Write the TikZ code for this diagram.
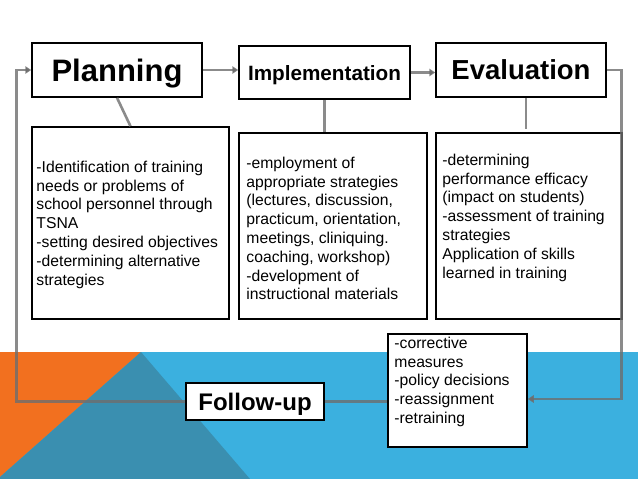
\documentclass[tikz,border=0pt]{standalone}
\usepackage{fontspec}
\setmainfont{Liberation Sans}
\usetikzlibrary{arrows.meta}

\definecolor{bandblue}{HTML}{3BB0DF}
\definecolor{bandteal}{HTML}{3A8FB0}
\definecolor{bandorange}{HTML}{F2701F}
\definecolor{linkgray}{HTML}{6E6E6E}

\tikzset{
  stage/.style={draw=black, line width=1.5pt, fill=white, inner sep=0pt,
    text depth=0pt, font=\bfseries\fontsize{#1}{#1}\selectfont},
  detail/.style={draw=black, line width=1.5pt, fill=white, inner sep=0pt},
  desc/.style={anchor=base west, inner sep=0pt, font=\fontsize{15.7}{18.8}\selectfont},
  link/.style={draw=linkgray, draw opacity=0.8, line width=2.6pt},
  flow/.style={link, -{Triangle[length=6pt, width=7.5pt]}},
}

\begin{document}
\begin{tikzpicture}[x=1pt, y=-1pt]
\useasboundingbox (0,0) rectangle (638,479);
% Hintergrund
\fill[white] (0,0) rectangle (638,479);
\fill[bandblue] (0,352) rectangle (638,479);
\fill[bandorange] (0,352) -- (141,352) -- (0,477) -- cycle;
\fill[bandteal] (141,352) -- (250,479) -- (0,479) -- (0,477) -- cycle;
% Stufen
\node[stage=31, minimum width=170, minimum height=54] (plan) at (117,70) {Planning};
\node[stage=20.7, minimum width=171, minimum height=53] (impl) at (324.5,72.5) {Implementation};
\node[stage=27.5, minimum width=170, minimum height=54] (eval) at (521,70) {Evaluation};
\node[stage=24, minimum width=138, minimum height=37] (follow) at (255,401.5) {Follow-up};
% Kaesten
\node[detail, minimum width=197, minimum height=192] (plandet) at (130.5,223) {};
\node[detail, minimum width=188, minimum height=186] (impldet) at (333,226) {};
\node[detail, minimum width=186, minimum height=186] (evaldet) at (529,226) {};
\node[detail, minimum width=139, minimum height=113] (corr) at (457.5,390.5) {};
% Text
\node[desc] (plantext) at ([xshift=5pt, yshift=-46pt]plandet.north west)
  {\parbox[t]{190pt}{\raggedright -Identification of training\\needs or problems of\\school personnel through\\TSNA\\-setting desired objectives\\-determining alternative\\strategies}};
\node[desc] (impltext) at ([xshift=8pt, yshift=-36pt]impldet.north west)
  {\parbox[t]{180pt}{\raggedright -employment of\\appropriate strategies\\(lectures, discussion,\\practicum, orientation,\\meetings, cliniquing.\\coaching, workshop)\\-development of\\instructional materials}};
\node[desc] (evaltext) at ([xshift=7pt, yshift=-33pt]evaldet.north west)
  {\parbox[t]{180pt}{\raggedright -determining\\performance efficacy\\(impact on students)\\-assessment of training\\strategies\\Application of skills\\learned in training}};
\node[desc] (corrtext) at ([xshift=7pt, yshift=-15pt]corr.north west)
  {\parbox[t]{130pt}{\raggedright -corrective\\measures\\-policy decisions\\-reassignment\\-retraining}};
% Verbindungen
\coordinate (corrin) at ([yshift=-8.5pt]corr.east);
\draw[flow] (plan.east) -- (plan.east -| impl.west);
\draw[flow] (impl.east) -- (impl.east -| eval.west);
\draw[link] (plan.south) -- (plandet.north);
\draw[link] (impl.south) -- (impl.south |- impldet.north);
\draw[link] ([xshift=5pt]eval.south) -- ++(0,31);
\draw[flow] (eval.east) -- ++(15,0) |- (corrin);
\draw[link] (follow.east) -- (follow.east -| corr.west);
\draw[flow] (follow.west) -- ++(-169,0) |- (plan.west);
\end{tikzpicture}
\end{document}
